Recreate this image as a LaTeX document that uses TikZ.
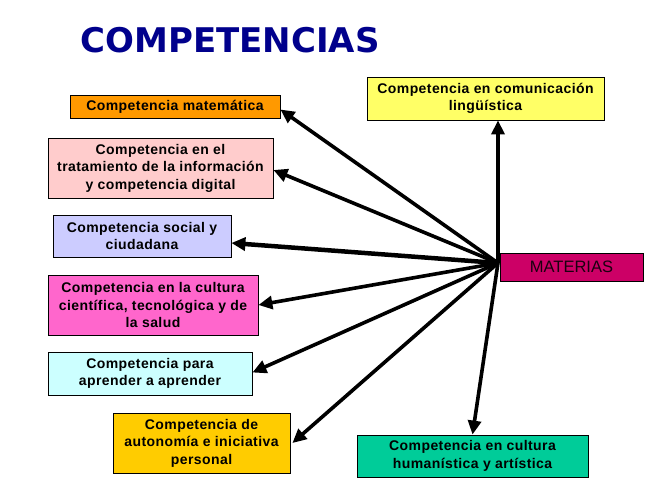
\documentclass[tikz,border=0pt]{standalone}
\usepackage{fontspec}
\setmainfont{Liberation Sans}
\newfontfamily\boxfont{Liberation Sans}[LetterSpace=3]
\newfontfamily\titlefont{DejaVu Sans}
\usetikzlibrary{arrows.meta}
\definecolor{titleblue}{RGB}{0,0,140}
\definecolor{cmat}{HTML}{FF9900}
\definecolor{ctrat}{HTML}{FFCCCC}
\definecolor{csoc}{HTML}{CCCCFF}
\definecolor{ccien}{HTML}{FF66CC}
\definecolor{capr}{HTML}{CCFFFF}
\definecolor{caut}{HTML}{FFCC00}
\definecolor{ccom}{HTML}{FFFF66}
\definecolor{cmater}{HTML}{CC0066}
\definecolor{chum}{HTML}{00CC99}
\definecolor{matertext}{HTML}{1A0010}
\tikzstyle{compbox}=[rectangle,draw=black,line width=0.8pt,inner sep=0pt,
                     align=center,font=\boxfont\bfseries\fontsize{14}{17.5}\selectfont]
\tikzstyle{bigarrow}=[line width=3.6pt,-{Triangle[length=14pt,width=13pt]}]

\begin{document}
\begin{tikzpicture}[x=1pt,y=1pt]
    \useasboundingbox (0,0) rectangle (656,491);
    \node (title) at (230,451) [font=\titlefont\bfseries\fontsize{34}{40}\selectfont,
                                text=titleblue]{COMPETENCIAS};
    \node (mat)  at (175,384.5) [compbox,fill=cmat,minimum width=210,minimum height=23]
        {Competencia matemática};
    \node (trat) at (160.5,323) [compbox,fill=ctrat,minimum width=225,minimum height=60]
        {Competencia en el\\tratamiento de la información\\y competencia digital};
    \node (soc)  at (142,255)   [compbox,fill=csoc,minimum width=178,minimum height=42]
        {Competencia social y\\ciudadana};
    \node (cien) at (153,186)   [compbox,fill=ccien,minimum width=210,minimum height=60]
        {Competencia en la cultura\\científica, tecnológica y de\\la salud};
    \node (apr)  at (150,117.5) [compbox,fill=capr,minimum width=204,minimum height=43]
        {Competencia para\\aprender a aprender};
    \node (aut)  at (201.5,48)  [compbox,fill=caut,minimum width=177,minimum height=60]
        {Competencia de\\autonomía e iniciativa\\personal};
    \node (com)  at (485.5,392.5) [compbox,fill=ccom,minimum width=237,minimum height=43]
        {Competencia en comunicación\\lingüística};
    \node (mater) at (571.5,224) [compbox,fill=cmater,minimum width=143,minimum height=28,
                                  font=\fontsize{16.5}{18}\selectfont,text=matertext]{MATERIAS};
    \node (hum)  at (472.5,35)  [compbox,fill=chum,minimum width=231,minimum height=42]
        {Competencia en cultura\\humanística y artística};
    \coordinate (o) at (498,228);
    \draw[bigarrow] (o) -- ([yshift=-3pt]mat.east);
    \draw[bigarrow] (o) -- ([yshift=-2pt]trat.east);
    \draw[bigarrow,line width=4.5pt] (o) -- ([yshift=-7pt]soc.east);
    \draw[bigarrow] (o) -- (cien.east);
    \draw[bigarrow] (o) -- ([yshift=1pt]apr.east);
    \draw[bigarrow] (o) -- ([xshift=2pt]aut.east);
    \draw[bigarrow] (o) -- (o |- com.south);
    \draw[bigarrow] (o) -- (hum.north);
  \end{tikzpicture}
\end{document}
